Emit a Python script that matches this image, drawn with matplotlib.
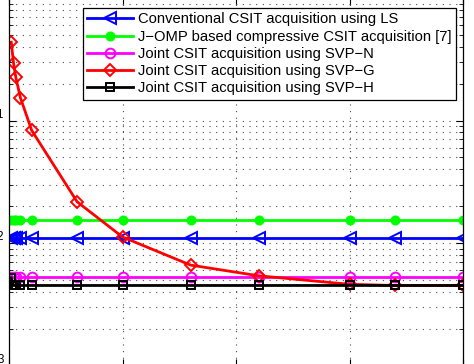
"""Pilot overhead vs. NMSE style comparison of CSIT acquisition schemes."""

import matplotlib

matplotlib.use("Agg")
import matplotlib.pyplot as plt
import matplotlib.transforms as mtransforms
from matplotlib.ticker import LogLocator, LogFormatterSciNotation, MultipleLocator

plt.rcParams["font.family"] = ["Liberation Sans", "DejaVu Sans"]
plt.rcParams["mathtext.fontset"] = "custom"
plt.rcParams["mathtext.rm"] = "Liberation Sans"
plt.rcParams["mathtext.it"] = "Liberation Sans:italic"

x_vals = [1, 2, 3, 5, 10, 30, 50, 80, 110, 150, 170, 200]

ls_vals = [1.1e-2] * 12
jomp_vals = [1.54e-2] * 12
svp_n_vals = [5.3e-3] * 12
svp_g_vals = [0.436, 0.293, 0.225, 0.154, 0.083, 0.0217, 0.0112,
              0.0066, 0.0054, 0.0046, 0.0045, 0.0045]
svp_h_vals = [5.2e-3] + [4.5e-3] * 11

labels = [
    "Conventional CSIT acquisition using LS",
    "J\u2212OMP based compressive CSIT acquisition [7]",
    "Joint CSIT acquisition using SVP\u2212N",
    "Joint CSIT acquisition using SVP\u2212G",
    "Joint CSIT acquisition using SVP\u2212H",
]

W, H = 474, 364
fig = plt.figure(figsize=(W / 100, H / 100), dpi=100)
ax = fig.add_axes([9 / W, -1.5 / H, 454 / W, 367.5 / H])

lw = 2.0
ax.plot(x_vals, ls_vals, color="#0000ff", lw=lw, marker="<", ms=8,
        mfc="none", mew=1.4, label=labels[0])
ax.plot(x_vals, jomp_vals, color="#00ff00", lw=lw, marker="o", ms=6,
        mfc="#00ff00", mew=1.2, label=labels[1])
ax.plot(x_vals, svp_n_vals, color="#ff00ff", lw=lw, marker="o", ms=7,
        mfc="none", mew=1.4, label=labels[2])
ax.plot(x_vals, svp_g_vals, color="#ff0000", lw=lw, marker="D", ms=6.5,
        mfc="none", mew=1.4, label=labels[3])
ax.plot(x_vals, svp_h_vals, color="black", lw=lw, marker="s", ms=5.5,
        mfc="none", mew=1.4, label=labels[4])

ax.set_yscale("log")
ax.set_ylim(1e-3, 1e0)
ax.set_xlim(0, 200)
ax.xaxis.set_major_locator(MultipleLocator(50))
ax.yaxis.set_major_locator(LogLocator(base=10))
ax.yaxis.set_minor_locator(LogLocator(base=10, subs=range(2, 10)))
ax.yaxis.set_major_formatter(LogFormatterSciNotation())

grid_style = dict(linestyle=(0, (1, 5)), color="0.3", lw=0.8)
ax.grid(True, which="major", axis="both", **grid_style)
ax.grid(True, which="minor", axis="y", **grid_style)

ax.tick_params(which="both", direction="in", top=True, right=True,
               labelsize=12, pad=3)
ax.tick_params(axis="x", labelbottom=False)
ax.tick_params(which="major", length=5, width=0.8)
ax.tick_params(which="minor", length=3, width=0.6)
for sp in ax.spines.values():
    sp.set_linewidth(0.9)

# lift the (cropped) y labels a little, as in the original export
lift = mtransforms.ScaledTranslation(0, 5 / 100, fig.dpi_scale_trans)
for lbl in ax.get_yticklabels():
    lbl.set_transform(lbl.get_transform() + lift)

leg = ax.legend(loc="upper right", bbox_to_anchor=(456 / W, 1 - 8 / H),
                bbox_transform=fig.transFigure, fontsize=10.6, frameon=True,
                fancybox=False, edgecolor="black", framealpha=1,
                handlelength=3.1, handletextpad=0.35, borderpad=0.3,
                labelspacing=0.22, borderaxespad=0)
leg.get_frame().set_linewidth(0.9)

fig.savefig("out.png", dpi=100)
